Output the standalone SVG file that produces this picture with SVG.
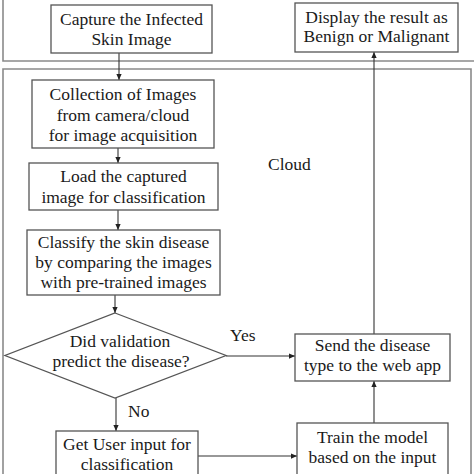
<svg xmlns="http://www.w3.org/2000/svg" width="474" height="474" viewBox="0 0 474 474">
<style>
.frame{fill:none;stroke:#8a8a8a;stroke-width:1.6}
.box{fill:#fff;stroke:#555;stroke-width:1.3}
text{font-family:'Liberation Serif','DejaVu Serif',serif;font-size:17.5px;fill:#1a1a1a}
.t{text-anchor:middle}
.c{fill:none;stroke:#333;stroke-width:1.1}
</style>
<defs>
<marker id="ah" viewBox="0 0 8 8" refX="8" refY="4" markerWidth="6" markerHeight="6" orient="auto" markerUnits="userSpaceOnUse">
<path d="M0,0.5 L8,4 L0,7.5 Z" fill="#222"/>
</marker>
</defs>
<rect width="474" height="474" fill="#fff"/>
<g id="frames">
<path class="frame" d="M3,0 V61 H474"/>
<path class="frame" d="M3,474 V69 H471 V474"/>
<text x="268" y="170">Cloud</text>
</g>
<g id="connectors">
<path class="c" d="M119,53 V80" marker-end="url(#ah)"/>
<path class="c" d="M118,148 V163" marker-end="url(#ah)"/>
<path class="c" d="M118,210 V230" marker-end="url(#ah)"/>
<path class="c" d="M115,295 V313" marker-end="url(#ah)"/>
<path class="c" d="M116,398 V431" marker-end="url(#ah)"/>
<path class="c" d="M226,356 H295" marker-end="url(#ah)"/>
<path class="c" d="M198,456 H297" marker-end="url(#ah)"/>
<path class="c" d="M374,423 V381" marker-end="url(#ah)"/>
<path class="c" d="M374,334 V52" marker-end="url(#ah)"/>
<text x="230" y="341">Yes</text>
<text x="128" y="417">No</text>
</g>
<g id="capture">
<rect class="box" x="51" y="5" width="161" height="48"/>
<text class="t" x="131.5" y="25">Capture the Infected</text>
<text class="t" x="131.5" y="45">Skin Image</text>
</g>
<g id="display">
<rect class="box" x="295" y="3" width="163" height="49"/>
<text class="t" x="376.5" y="22.5">Display the result as</text>
<text class="t" x="376.5" y="42">Benign or Malignant</text>
</g>
<g id="collection">
<rect class="box" x="32" y="80" width="182" height="68"/>
<text class="t" x="123" y="100">Collection of Images</text>
<text class="t" x="123" y="120.5">from camera/cloud</text>
<text class="t" x="123" y="141">for image acquisition</text>
</g>
<g id="load">
<rect class="box" x="29" y="163" width="189" height="47"/>
<text class="t" x="123.5" y="182">Load the captured</text>
<text class="t" x="123.5" y="202.5">image for classification</text>
</g>
<g id="classify">
<rect class="box" x="27" y="230" width="193" height="65"/>
<text class="t" x="123.5" y="248">Classify the skin disease</text>
<text class="t" x="123.5" y="268">by comparing the images</text>
<text class="t" x="123.5" y="288">with pre-trained images</text>
</g>
<g id="decision">
<polygon class="box" points="115,313 226,355.5 115,398 5,355.5"/>
<text class="t" x="120" y="347">Did validation</text>
<text class="t" x="121" y="367">predict the disease?</text>
</g>
<g id="userinput">
<rect class="box" x="56" y="431" width="142" height="50"/>
<text class="t" x="127" y="450">Get User input for</text>
<text class="t" x="127" y="470">classification</text>
</g>
<g id="send">
<rect class="box" x="295" y="334" width="155" height="47"/>
<text class="t" x="372.5" y="351">Send the disease</text>
<text class="t" x="372.5" y="371">type to the web app</text>
</g>
<g id="train">
<rect class="box" x="297" y="423" width="151" height="60"/>
<text class="t" x="372.5" y="443">Train the model</text>
<text class="t" x="372.5" y="463">based on the input</text>
</g>
</svg>
